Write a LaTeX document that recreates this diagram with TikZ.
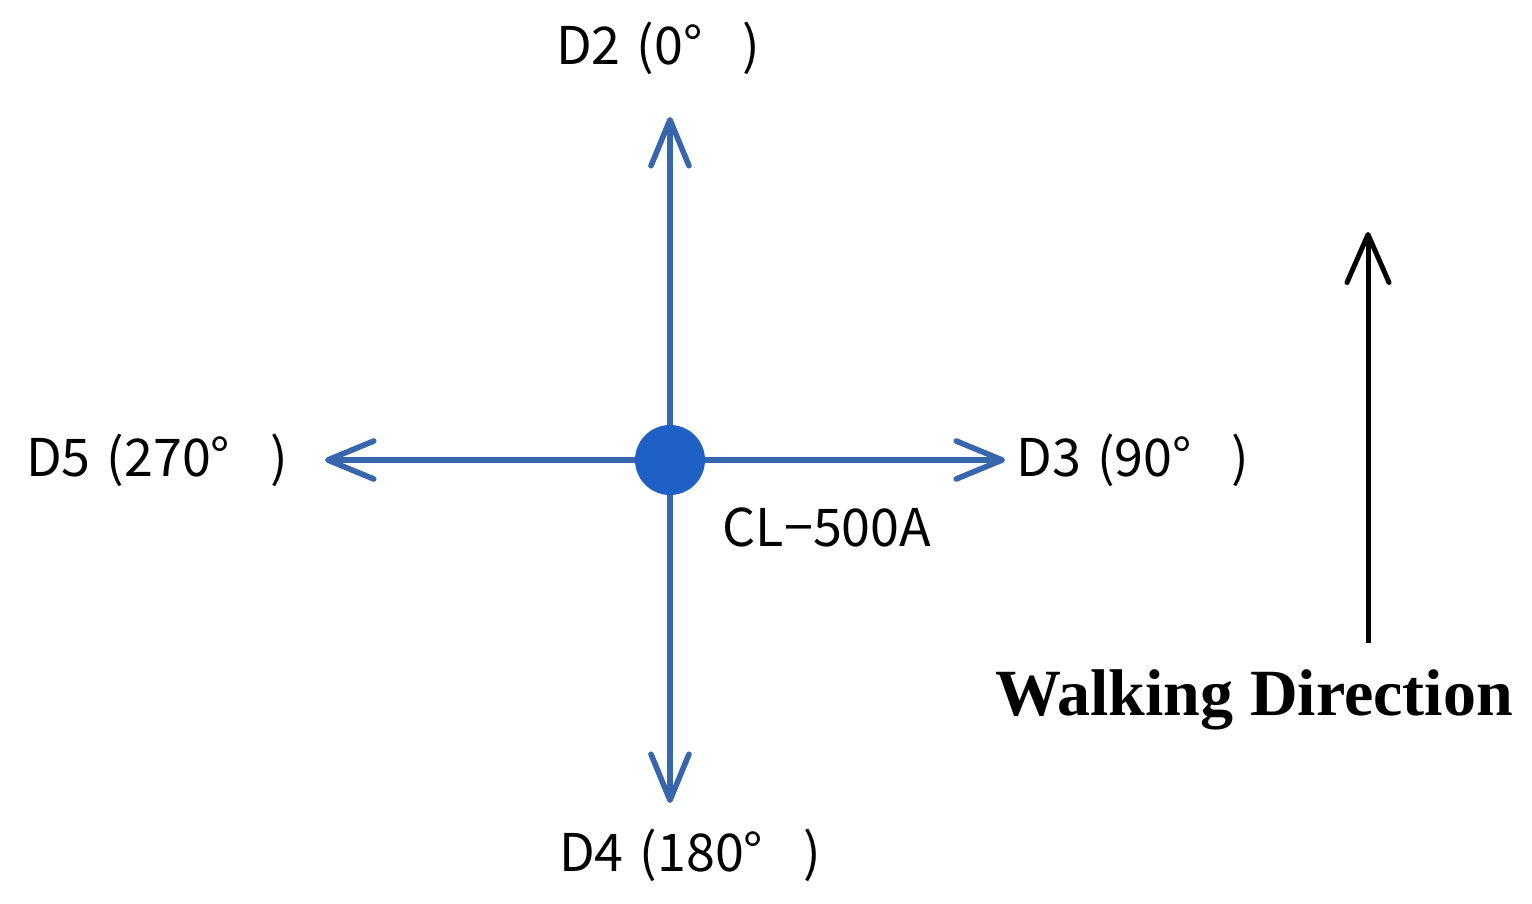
\documentclass[tikz,border=0pt]{standalone}
\usepackage{fontspec}
\setmainfont{Liberation Serif}
\newfontfamily\cjk{Noto Sans CJK SC}
\usetikzlibrary{arrows.meta}
\definecolor{lineblue}{RGB}{55,102,172}
\definecolor{dotblue}{RGB}{30,96,196}
\newcommand\dlab[2]{#1\hspace{8pt}(#2°\hspace{20pt})}
\tikzset{
  dirarrow/.style={draw=lineblue, line width=2.8pt, -{Straight Barb[length=23pt,width=19pt,line cap=round,line join=round]}},
  walkarrow/.style={draw=black, line width=2.5pt, -{Straight Barb[length=24pt,width=21pt,line cap=round,line join=round]}},
  dirlabel/.style={font=\cjk\fontsize{26}{30}\selectfont, text=black, inner sep=0pt},
}
\begin{document}
\begin{tikzpicture}[x=0.5pt,y=-0.5pt]
\path[use as bounding box] (0,0) rectangle (1532,904);
\coordinate (c) at (670,460);
\coordinate (tN) at (670,117);
\coordinate (tS) at (670,803);
\coordinate (tW) at (325,460);
\coordinate (tE) at (1005,460);
\draw[dirarrow] (c) -- (tN);
\draw[dirarrow] (c) -- (tS);
\draw[dirarrow] (c) -- (tW);
\draw[dirarrow] (c) -- (tE);
\node[circle, fill=dotblue, minimum size=35pt, inner sep=0pt] (dot) at (c) {};
\node[dirlabel] (d2) at (658,48) {\dlab{D2}{0}};
\node[dirlabel] (d3) at (1133,460) {\dlab{D3}{90}};
\node[dirlabel] (d5) at (157,460) {\dlab{D5}{270}};
\node[dirlabel] (d4) at (690,855) {\dlab{D4}{180}};
\node[dirlabel] (cl) at (827,527) {CL−500A};
\coordinate (wb) at (1368,643);
\coordinate (wt) at (1368,232);
\draw[walkarrow] (wb) -- (wt);
\node[font=\bfseries\fontsize{33}{36}\selectfont, inner sep=0pt, anchor=base] (walk) at (1254,715) {Walking Direction};
\end{tikzpicture}
\end{document}
